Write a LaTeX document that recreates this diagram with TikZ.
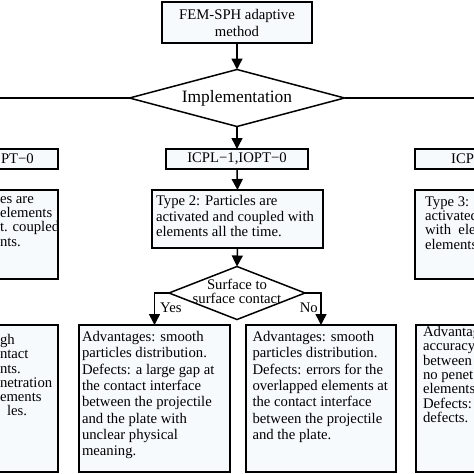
\documentclass[tikz,border=0pt]{standalone}
\usepackage{fontspec}
\setmainfont{Liberation Serif}
\usetikzlibrary{arrows.meta,shapes.geometric}
\definecolor{boxfill}{RGB}{247,250,252}
\begin{document}
\begin{tikzpicture}[x=1pt,y=-1pt,
  box/.style={draw=black,line width=1.8pt,fill=boxfill,inner sep=0pt,outer sep=0pt},
  dia/.style={draw=black,line width=1.5pt,diamond,fill=white,inner sep=0pt,outer sep=0pt},
  conn/.style={draw=black,line width=1.5pt},
  arr/.style={conn,-{Triangle[length=11pt,width=11pt]}},
  txt/.style={inner sep=0pt,outer sep=0pt,align=left,anchor=north west},
  fs/.style={font=\fontsize{14.7}{17}\selectfont},
  fsA/.style={font=\fontsize{14.7}{16.3}\selectfont},
  fsB/.style={font=\fontsize{14.7}{15.5}\selectfont},
  fsC/.style={font=\fontsize{14.7}{14.3}\selectfont},
  fsD/.style={font=\fontsize{14.7}{13.6}\selectfont},
  fsBig/.style={font=\fontsize{17.4}{20}\selectfont}
]
\useasboundingbox (0,0) rectangle (474,474);
\clip (0,0) rectangle (474,474);

% top box and main decision
\node[box,fs,align=center,minimum width=150pt,minimum height=41pt] (top) at (237,22.5) {FEM-SPH adaptive\\method};
\node[dia,minimum width=215pt,minimum height=57pt] (impl) at (237,98) {};
\node[inner sep=0pt,fsBig] (impltxt) at (237,98) {Implementation};
\coordinate (leftend) at (-3,98);
\coordinate (rightend) at (477,98);

% second row
\node[box,fs,minimum width=142pt,minimum height=20pt] (icpl) at (237,159) {ICPL−1,IOPT−0};
\node[box,minimum width=158pt,minimum height=20pt] (icplL) at (-21,159) {};
\node[inner sep=0pt,fs,anchor=east] (icplLt) at (34,159) {PT−0};
\node[box,minimum width=160pt,minimum height=20pt] (icplR) at (495,159) {};
\node[inner sep=0pt,fs,anchor=west] (icplRt) at (451,159) {ICPL};

% third row
\node[box,minimum width=171pt,minimum height=58pt] (t2) at (237.5,219) {};
\node[txt,fsB] (t2t) at (156,195.4) {Type 2: Particles are\\activated and coupled with\\elements all the time.};
\node[box,minimum width=158pt,minimum height=89pt] (t1) at (-21,234.5) {};
\node[txt,fsC] (t1t) at (0,196.4) {es are\\elements\\t. coupled\\nts.};
\node[box,minimum width=160pt,minimum height=89pt] (t3) at (495,234.5) {};
\node[txt,fsC] (t3t) at (425,196.4) {Type 3: P\\activated\\with\ \ ele\\elements};

% contact decision
\node[dia,minimum width=136pt,minimum height=53pt] (sd) at (237,293) {};
\node[inner sep=0pt,fsD,align=center] (sdt) at (237,291.5) {Surface to\\surface contact};

% bottom row
\node[box,minimum width=151pt,minimum height=147pt] (bl) at (154.5,398.5) {};
\node[txt,fsA] (blt) at (82,331.4) {Advantages: smooth\\particles distribution.\\Defects: a large gap at\\the contact interface\\between the projectile\\and the plate with\\unclear physical\\meaning.};
\node[box,minimum width=150pt,minimum height=147pt] (br) at (321,398.5) {};
\node[txt,fsA] (brt) at (252.5,331.4) {Advantages: smooth\\particles distribution.\\Defects: errors for the\\overlapped elements at\\the contact interface\\between the projectile\\and the plate.};
\node[box,minimum width=158pt,minimum height=147pt] (bL) at (-21,398.5) {};
\node[txt,fsC] (bLt) at (0,334.4) {gh\\ntact\\nts.\\netration\\ements};
\node[txt,fsC,anchor=base west] (bLt2) at (7,415.8) {les.};
\node[box,minimum width=159pt,minimum height=147pt] (bR) at (495.5,398.5) {};
\node[txt,fsC] (bRt) at (423,326.4) {Advantag\\accuracy\\between\\no penet\\elements\\Defects:\\defects.};

% connectors
\draw[arr] (top.south) -- (impl.north);
\draw[conn] (impl.west) -- (leftend);
\draw[conn] (impl.east) -- (rightend);
\draw[arr] (impl.south) -- (icpl.north);
\draw[arr] (icpl.south) -- (t2.north);
\draw[arr] (t2.south) -- (sd.north);
\draw[arr] (sd.west) -| (bl.north);
\draw[arr] (sd.east) -| (br.north);
\node[inner sep=0pt,fs,anchor=west] (yes) at (160,308) {Yes};
\node[inner sep=0pt,fs,anchor=east] (no) at (318,308) {No};
\end{tikzpicture}
\end{document}
